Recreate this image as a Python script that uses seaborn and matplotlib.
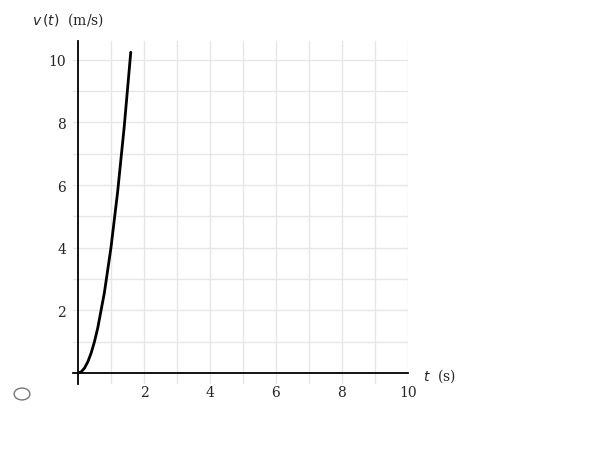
import matplotlib
matplotlib.use("Agg")
import matplotlib.pyplot as plt
import seaborn as sns
import numpy as np
import pandas as pd

t = [0, 0.1, 0.2, 0.3, 0.4, 0.5, 0.6, 0.8, 1.0, 1.2, 1.4, 1.6]
v = [0, 0.04, 0.16, 0.36, 0.64, 1.0, 1.44, 2.56, 4.0, 5.76, 7.84, 10.24]
xticks = [2, 4, 6, 8, 10]
yticks = [2, 4, 6, 8, 10]

sns.set_style("white")
plt.rcParams['font.family'] = ['DejaVu Serif']
fig = plt.figure(figsize=(6.06, 4.56), dpi=100)
ax = fig.add_axes([73/606, 1-385/456, 335/606, 343/456])
df = pd.DataFrame({"t": t, "v": v})
sns.lineplot(data=df, x="t", y="v", ax=ax, color="black", lw=2)
ax.set_xlim(-0.15, 10)
ax.set_ylim(-0.35, 10.6)
for s in ["top", "right"]:
    ax.spines[s].set_visible(False)
ax.spines["left"].set_position(("data", 0))
ax.spines["bottom"].set_position(("data", 0))
for s in ["left", "bottom"]:
    ax.spines[s].set_color("black"); ax.spines[s].set_linewidth(1.3)
ax.set_xticks(xticks); ax.set_yticks(yticks)
ax.set_xticks(np.arange(0.5, 10.01, 0.5), minor=True)
ax.set_yticks(np.arange(0.5, 10.51, 0.5), minor=True)
ax.tick_params(axis="both", which="major", length=5, labelsize=10, direction="out", color="black")
ax.tick_params(axis="both", which="minor", length=3, direction="in", color="black")
ax.tick_params(axis="y", labelrotation=0)
for g in range(1, 11):
    ax.axvline(g, color="#e6e6e6", lw=1, zorder=0)
    ax.axhline(g, color="#e6e6e6", lw=1, zorder=0)
ax.set_xlabel(""); ax.set_ylabel("")
fig.text(32/606, 1-20/456, r"$v\,(t)$  (m/s)", fontsize=10, va="center", family="DejaVu Serif")
fig.text(423/606, 1-376/456, r"$t$  (s)", fontsize=10, va="center")
fig.patches.append(plt.Circle((22/606, 1-395/456), 0.013, transform=fig.transFigure,
                              fill=False, ec="#777777", lw=1))
fig.savefig("out.png", dpi=100)
